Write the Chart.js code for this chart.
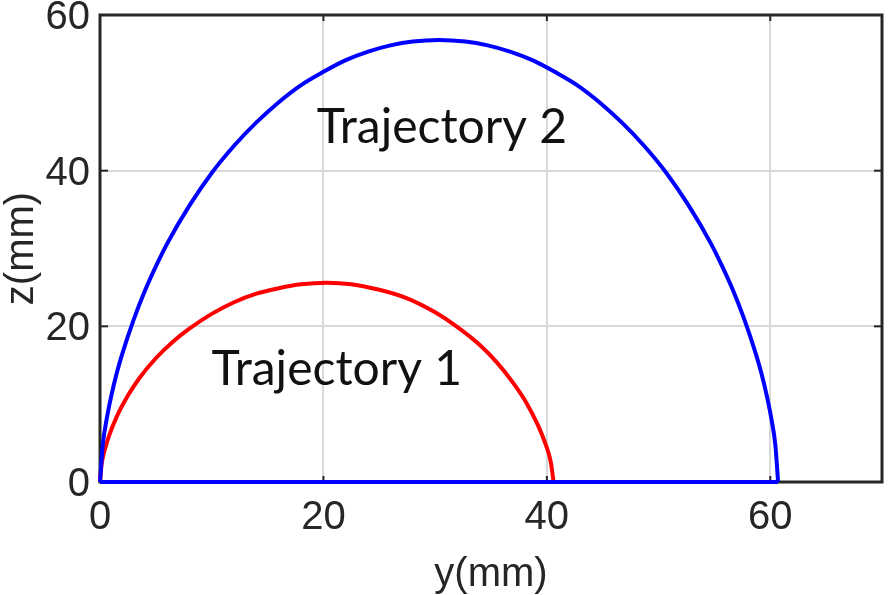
<!DOCTYPE html>
<html>
<head>
<meta charset="utf-8">
<script src="https://cdn.jsdelivr.net/npm/chart.js@4.4.0/dist/chart.umd.min.js"></script>
<style>
  html, body { margin: 0; padding: 0; background: #fff; }
  #wrap { width: 889px; height: 595px; }
</style>
</head>
<body>
<div id="wrap"><canvas id="traj" width="889" height="595"></canvas></div>
<script>
// values (mm)
const traj1Y = [0, 0.15, 0.4, 0.8, 1.5, 2.5, 3.5, 5, 6.5, 8, 10, 12, 14, 16, 18, 20.3, 22.5, 25, 27.5, 30, 32, 34, 35.5, 37, 38.2, 39.2, 39.9, 40.35, 40.6];
const traj1Z = [0, 2.3, 4.0, 5.9, 8.4, 11.1, 13.3, 15.9, 18.0, 19.7, 21.6, 23.1, 24.2, 24.9, 25.4, 25.6, 25.4, 24.7, 23.6, 21.8, 19.9, 17.6, 15.4, 12.7, 10.1, 7.3, 4.8, 2.6, 0];

const traj2Y = [0, 0.25, 0.6, 1, 1.5, 2, 3, 4, 5, 6, 8, 10, 12, 14, 16, 18, 20, 22, 24, 26, 28, 30.35, 32.7, 34.7, 36.7, 38.7, 40.7, 42.7, 44.7, 46.7, 48.7, 50.7, 52.7, 54.7, 55.7, 56.7, 57.7, 58.7, 59.2, 59.7, 60.1, 60.45, 60.7];
const traj2Z = [0, 4.8, 8.1, 11.0, 14.0, 16.5, 20.8, 24.5, 27.7, 30.6, 35.5, 39.7, 43.2, 46.2, 48.8, 51.0, 52.7, 54.2, 55.3, 56.1, 56.6, 56.8, 56.6, 56.1, 55.3, 54.2, 52.7, 51.0, 48.8, 46.2, 43.2, 39.7, 35.5, 30.6, 27.7, 24.5, 20.8, 16.5, 14.0, 11.0, 8.1, 4.8, 0];

// ground line under both trajectories
const baseY = [0, 60.7];
const baseZ = [0, 0];

const yTicks = [0, 20, 40, 60];
const zTicks = [0, 20, 40, 60];

const labelText = ['Trajectory 1', 'Trajectory 2'];
const labelY = [21.2, 30.6];
const labelZ = [12.5, 43.6];

const AXIS_COLOR = '#262626';
const toPoints = (xs, ys) => xs.map((x, i) => ({ x: x, y: ys[i] }));

function curve(data, color) {
  return {
    data: data,
    showLine: true,
    borderColor: color,
    backgroundColor: color,
    borderWidth: 4,
    pointRadius: 0,
    cubicInterpolationMode: 'monotone',
    clip: 6,
    fill: false
  };
}

// MATLAB-ish box, inner ticks and text labels
const boxPlugin = {
  id: 'box',
  beforeDatasetsDraw(chart) {
    const { ctx, chartArea: a, scales: { x, y } } = chart;
    ctx.save();
    ctx.strokeStyle = AXIS_COLOR;
    ctx.lineWidth = 2;
    yTicks.forEach(v => {
      const px = x.getPixelForValue(v);
      ctx.beginPath(); ctx.moveTo(px, a.bottom); ctx.lineTo(px, a.bottom - 6); ctx.stroke();
      ctx.beginPath(); ctx.moveTo(px, a.top); ctx.lineTo(px, a.top + 6); ctx.stroke();
    });
    zTicks.forEach(v => {
      const py = y.getPixelForValue(v);
      ctx.beginPath(); ctx.moveTo(a.left, py); ctx.lineTo(a.left + 8, py); ctx.stroke();
      ctx.beginPath(); ctx.moveTo(a.right, py); ctx.lineTo(a.right - 8, py); ctx.stroke();
    });
    ctx.lineWidth = 3;
    ctx.strokeRect(a.left, a.top, a.right - a.left, a.bottom - a.top);
    ctx.restore();
  },
  afterDatasetsDraw(chart) {
    const { ctx, scales: { x, y } } = chart;
    ctx.save();
    ctx.fillStyle = '#111';
    ctx.font = '48px Lato';
    ctx.textAlign = 'center';
    ctx.textBaseline = 'alphabetic';
    labelText.forEach((t, i) => {
      ctx.fillText(t, x.getPixelForValue(labelY[i]), y.getPixelForValue(labelZ[i]));
    });
    ctx.restore();
  }
};

new Chart(document.getElementById('traj').getContext('2d'), {
  type: 'scatter',
  data: {
    datasets: [
      curve(toPoints(baseY, baseZ), '#0000ff'),
      curve(toPoints(traj2Y, traj2Z), '#0000ff'),
      curve(toPoints(traj1Y, traj1Z), '#ff0000')
    ]
  },
  options: {
    responsive: false,
    animation: false,
    layout: { padding: { top: 15, right: 7, left: 0, bottom: 0 } },
    plugins: { legend: { display: false }, tooltip: { enabled: false } },
    scales: {
      x: {
        type: 'linear',
        min: 0,
        max: 70,
        afterBuildTicks: s => { s.ticks = yTicks.map(v => ({ value: v })); },
        afterFit: s => { s.height = 113; s.paddingLeft = 0; s.paddingRight = 0; },
        grid: { color: '#d8d8d8', lineWidth: 2, drawTicks: false },
        border: { display: false },
        ticks: {
          padding: 12,
          color: AXIS_COLOR,
          font: { family: 'Liberation Sans', size: 40 },
          maxRotation: 0
        },
        title: {
          display: true,
          text: 'y(mm)',
          color: AXIS_COLOR,
          font: { family: 'Liberation Sans', size: 40, lineHeight: 1 },
          padding: { top: 0, bottom: 0 }
        }
      },
      y: {
        type: 'linear',
        min: 0,
        max: 60,
        afterBuildTicks: s => { s.ticks = zTicks.map(v => ({ value: v })); },
        afterFit: s => { s.width = 100; s.paddingTop = 0; s.paddingBottom = 0; },
        grid: { color: '#d8d8d8', lineWidth: 2, drawTicks: false },
        border: { display: false },
        ticks: {
          padding: 10,
          labelOffset: 3,
          color: AXIS_COLOR,
          font: { family: 'Liberation Sans', size: 40 }
        },
        title: {
          display: true,
          text: 'z(mm)',
          color: AXIS_COLOR,
          font: { family: 'Liberation Sans', size: 40, lineHeight: 1 },
          padding: { top: 2, bottom: 0 }
        }
      }
    }
  },
  plugins: [boxPlugin]
});
</script>
</body>
</html>
